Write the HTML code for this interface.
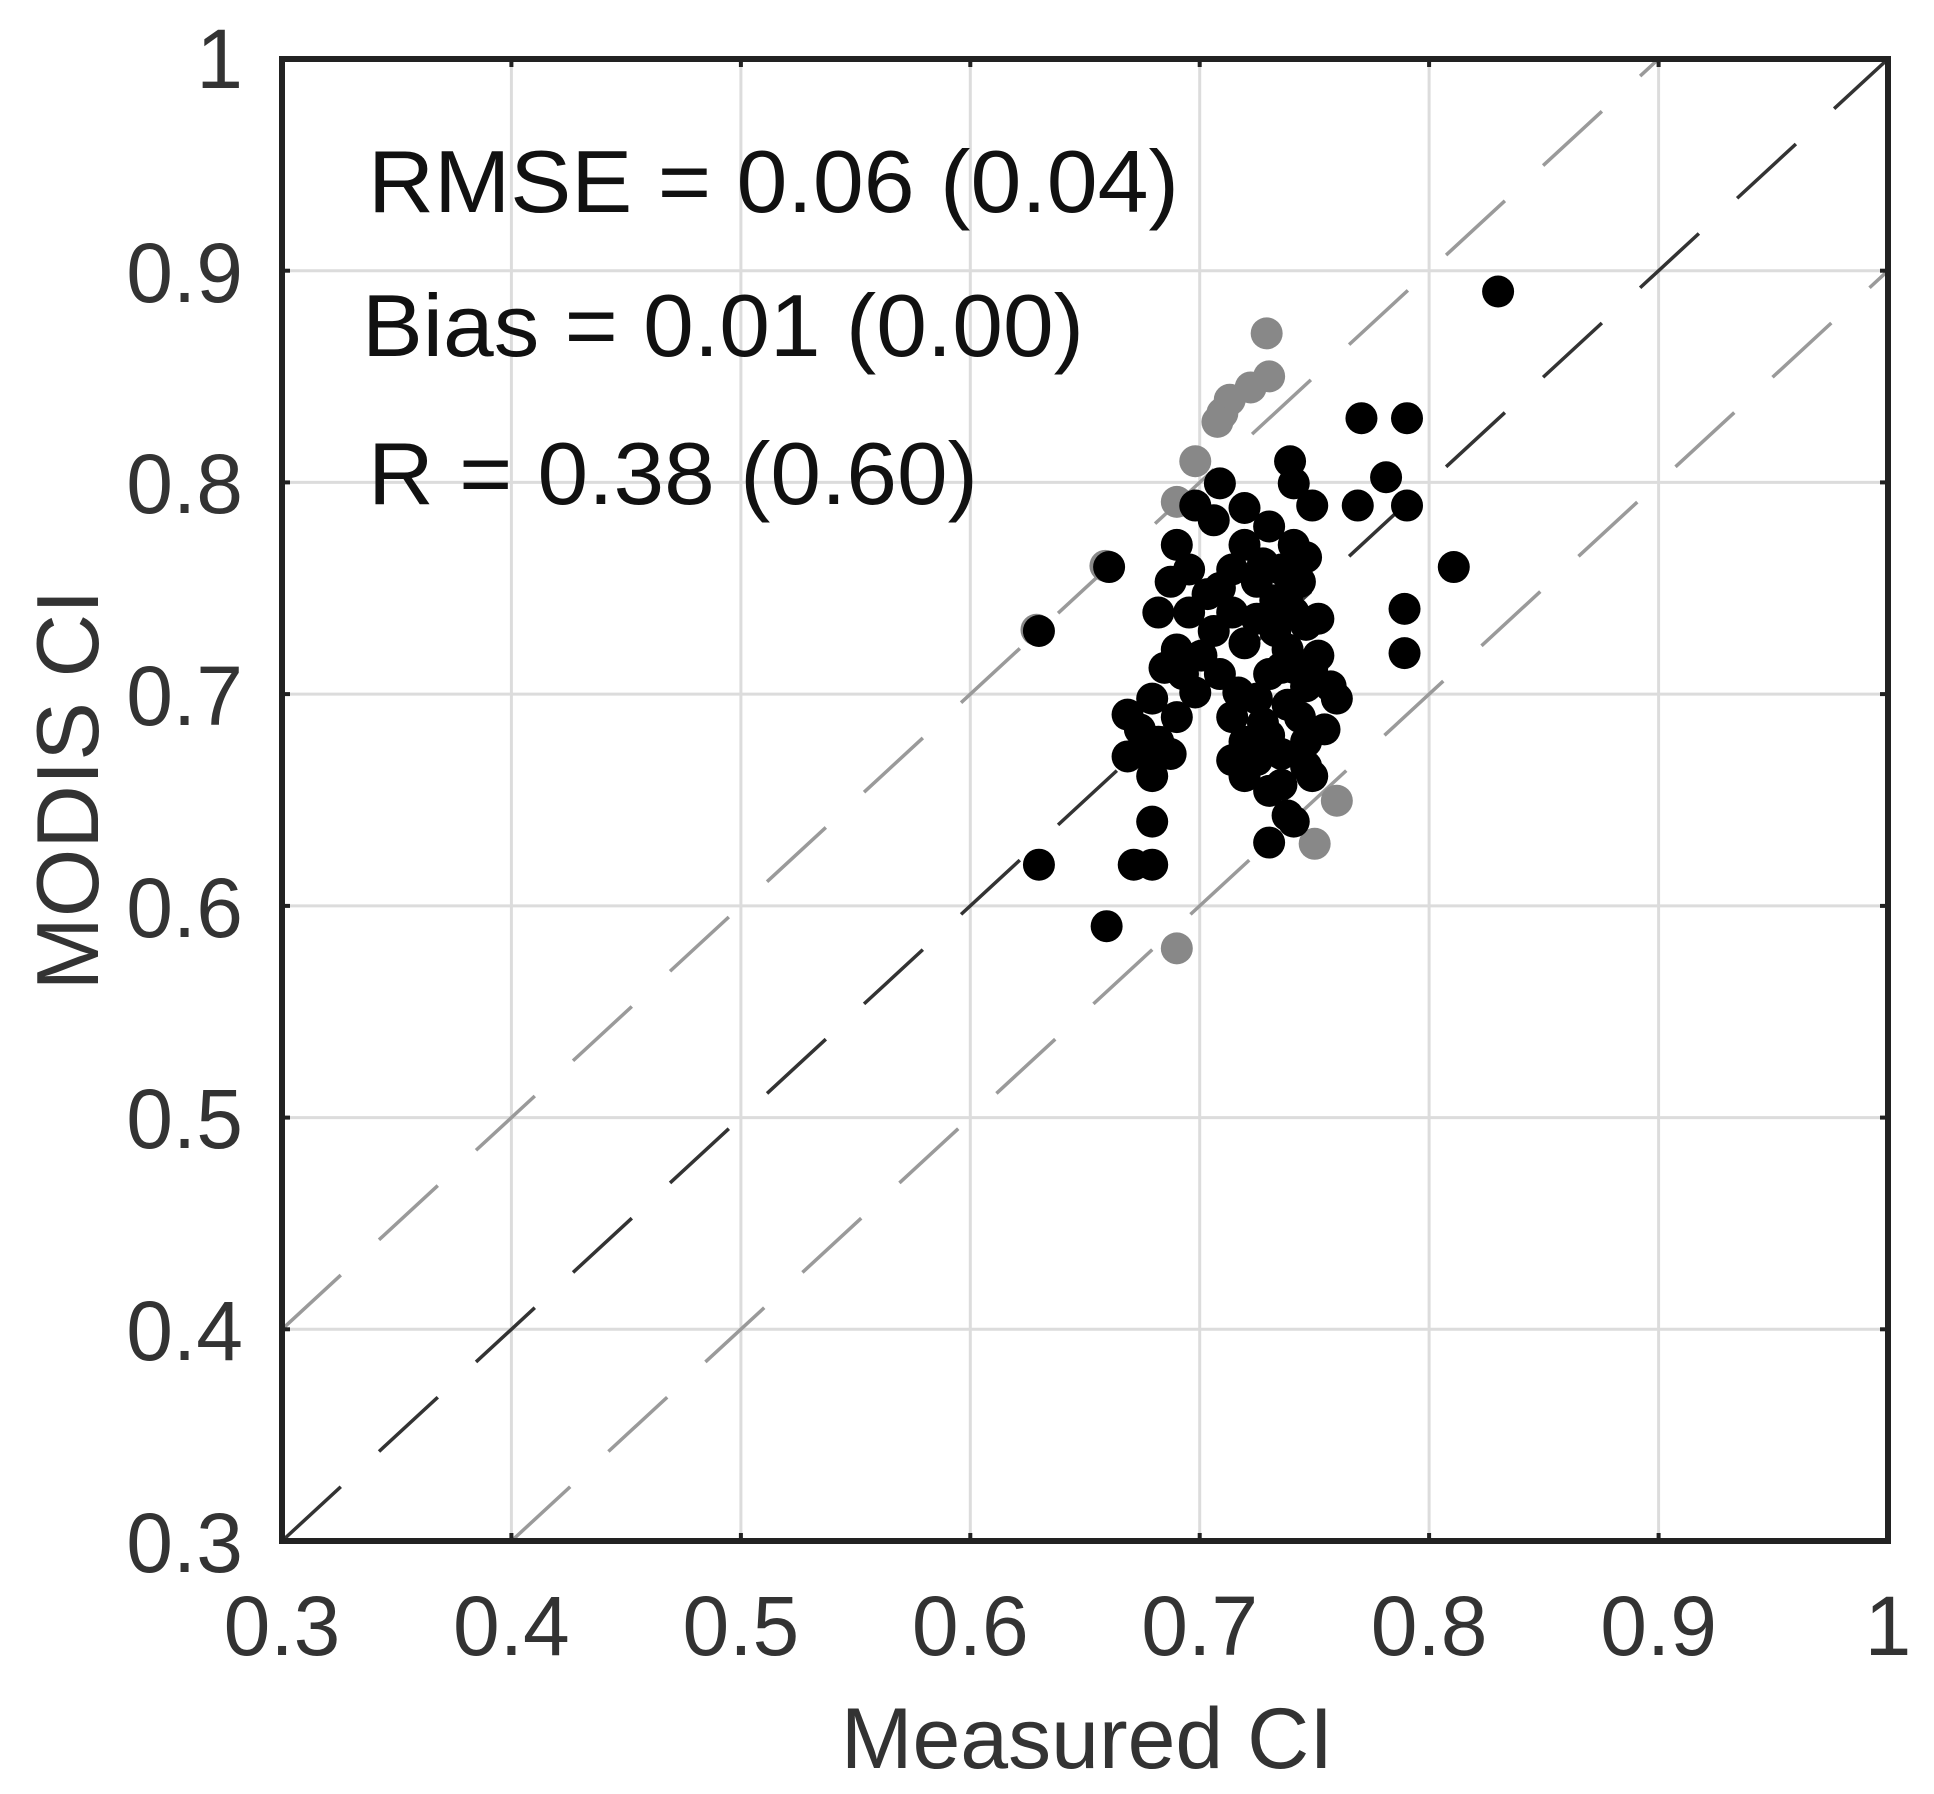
<!DOCTYPE html>
<html><head><meta charset="utf-8"><style>
html,body{margin:0;padding:0;background:#fff;}
svg{display:block;}
text{font-family:"Liberation Sans",Arial,sans-serif;}
</style></head><body>
<svg width="1934" height="1794" viewBox="0 0 1934 1794" xmlns="http://www.w3.org/2000/svg">
<rect width="1934" height="1794" fill="#fff"/>
<g stroke="#dcdcdc" stroke-width="3">
<line x1="511.4" y1="59" x2="511.4" y2="1541"/>
<line x1="740.9" y1="59" x2="740.9" y2="1541"/>
<line x1="970.3" y1="59" x2="970.3" y2="1541"/>
<line x1="1199.7" y1="59" x2="1199.7" y2="1541"/>
<line x1="1429.1" y1="59" x2="1429.1" y2="1541"/>
<line x1="1658.6" y1="59" x2="1658.6" y2="1541"/>
<line x1="282" y1="1329.3" x2="1888" y2="1329.3"/>
<line x1="282" y1="1117.6" x2="1888" y2="1117.6"/>
<line x1="282" y1="905.9" x2="1888" y2="905.9"/>
<line x1="282" y1="694.1" x2="1888" y2="694.1"/>
<line x1="282" y1="482.4" x2="1888" y2="482.4"/>
<line x1="282" y1="270.7" x2="1888" y2="270.7"/>
</g>
<g stroke-width="3.5" fill="none" stroke-dasharray="80 52">
<line x1="282" y1="1541" x2="1888" y2="59" stroke="#333"/>
<line x1="282" y1="1329.3" x2="1658.6" y2="59" stroke="#9a9a9a"/>
<line x1="511.4" y1="1541" x2="1888" y2="270.7" stroke="#9a9a9a"/>
</g>
<g transform="translate(1.2,3.7) scale(1.231,1.23)">
<g fill="#888">
<circle cx="1028" cy="268" r="13"/><circle cx="1030" cy="303" r="13"/><circle cx="1015" cy="312" r="13"/>
<circle cx="998" cy="322" r="13"/><circle cx="992" cy="333" r="13"/><circle cx="988" cy="340" r="13"/>
<circle cx="970" cy="372" r="13"/><circle cx="955" cy="405" r="13"/><circle cx="1085" cy="648" r="13"/>
<circle cx="1067" cy="683" r="13"/><circle cx="955" cy="768" r="13"/><circle cx="897" cy="457" r="13"/><circle cx="841" cy="509" r="13"/>
</g>
<g fill="#000">
<circle cx="1216" cy="234" r="13"/><circle cx="1105" cy="337" r="13"/><circle cx="1142" cy="337" r="13"/>
<circle cx="1047" cy="372" r="13"/><circle cx="1125" cy="385" r="13"/><circle cx="1102" cy="408" r="13"/>
<circle cx="1142" cy="408" r="13"/><circle cx="990" cy="390" r="13"/><circle cx="970" cy="408" r="13"/>
<circle cx="1065" cy="408" r="13"/><circle cx="1050" cy="440" r="13"/><circle cx="1030" cy="425" r="13"/>
<circle cx="1010" cy="440" r="13"/><circle cx="955" cy="440" r="13"/><circle cx="965" cy="460" r="13"/>
<circle cx="900" cy="458" r="13"/><circle cx="1180" cy="458" r="13"/><circle cx="990" cy="475" r="13"/>
<circle cx="940" cy="495" r="13"/><circle cx="965" cy="495" r="13"/><circle cx="1000" cy="495" r="13"/>
<circle cx="1050" cy="495" r="13"/><circle cx="1140" cy="492" r="13"/><circle cx="843" cy="510" r="13"/>
<circle cx="1140" cy="528" r="13"/><circle cx="955" cy="525" r="13"/><circle cx="1010" cy="520" r="13"/>
<circle cx="1045" cy="525" r="13"/><circle cx="1070" cy="530" r="13"/><circle cx="1030" cy="545" r="13"/>
<circle cx="1060" cy="555" r="13"/><circle cx="1080" cy="555" r="13"/><circle cx="970" cy="560" r="13"/>
<circle cx="935" cy="565" r="13"/><circle cx="915" cy="578" r="13"/><circle cx="1045" cy="570" r="13"/>
<circle cx="1000" cy="580" r="13"/><circle cx="1085" cy="565" r="13"/><circle cx="925" cy="590" r="13"/>
<circle cx="940" cy="600" r="13"/><circle cx="1010" cy="600" r="13"/><circle cx="1060" cy="600" r="13"/>
<circle cx="1030" cy="595" r="13"/><circle cx="1060" cy="620" r="13"/><circle cx="915" cy="612" r="13"/>
<circle cx="935" cy="628" r="13"/><circle cx="1010" cy="628" r="13"/><circle cx="1040" cy="610" r="13"/>
<circle cx="1065" cy="628" r="13"/><circle cx="1045" cy="660" r="13"/><circle cx="920" cy="700" r="13"/>
<circle cx="935" cy="700" r="13"/><circle cx="935" cy="665" r="13"/><circle cx="1050" cy="665" r="13"/>
<circle cx="1030" cy="682" r="13"/><circle cx="843" cy="700" r="13"/><circle cx="898" cy="750" r="13"/>
<circle cx="1020" cy="470" r="13"/><circle cx="1040" cy="460" r="13"/><circle cx="1055" cy="470" r="13"/>
<circle cx="1020" cy="500" r="13"/><circle cx="1035" cy="510" r="13"/><circle cx="985" cy="510" r="13"/>
<circle cx="950" cy="470" r="13"/><circle cx="975" cy="530" r="13"/><circle cx="990" cy="545" r="13"/>
<circle cx="955" cy="580" r="13"/><circle cx="1020" cy="565" r="13"/><circle cx="1050" cy="540" r="13"/>
<circle cx="1075" cy="590" r="13"/><circle cx="1020" cy="615" r="13"/><circle cx="1060" cy="450" r="13"/>
<circle cx="1010" cy="410" r="13"/><circle cx="1050" cy="390" r="13"/>
<circle cx="1025" cy="455" r="13"/><circle cx="1035" cy="485" r="13"/><circle cx="1060" cy="505" r="13"/>
<circle cx="1000" cy="460" r="13"/><circle cx="980" cy="480" r="13"/><circle cx="960" cy="545" r="13"/>
<circle cx="945" cy="540" r="13"/><circle cx="1040" cy="540" r="13"/><circle cx="1055" cy="580" r="13"/>
<circle cx="1005" cy="560" r="13"/><circle cx="1025" cy="585" r="13"/><circle cx="1070" cy="500" r="13"/>
<circle cx="950" cy="610" r="13"/><circle cx="930" cy="610" r="13"/><circle cx="1000" cy="615" r="13"/>
<circle cx="1065" cy="540" r="13"/><circle cx="1045" cy="480" r="13"/><circle cx="985" cy="420" r="13"/>
<circle cx="1030" cy="640" r="13"/><circle cx="1040" cy="635" r="13"/>
</g>
</g>
<g stroke="#222" stroke-width="4">
<line x1="511.4" y1="1541" x2="511.4" y2="1533"/><line x1="740.9" y1="1541" x2="740.9" y2="1533"/>
<line x1="970.3" y1="1541" x2="970.3" y2="1533"/><line x1="1199.7" y1="1541" x2="1199.7" y2="1533"/>
<line x1="1429.1" y1="1541" x2="1429.1" y2="1533"/><line x1="1658.6" y1="1541" x2="1658.6" y2="1533"/>
<line x1="511.4" y1="59" x2="511.4" y2="67"/><line x1="740.9" y1="59" x2="740.9" y2="67"/>
<line x1="970.3" y1="59" x2="970.3" y2="67"/><line x1="1199.7" y1="59" x2="1199.7" y2="67"/>
<line x1="1429.1" y1="59" x2="1429.1" y2="67"/><line x1="1658.6" y1="59" x2="1658.6" y2="67"/>
<line x1="282" y1="1329.3" x2="290" y2="1329.3"/><line x1="282" y1="1117.6" x2="290" y2="1117.6"/>
<line x1="282" y1="905.9" x2="290" y2="905.9"/><line x1="282" y1="694.1" x2="290" y2="694.1"/>
<line x1="282" y1="482.4" x2="290" y2="482.4"/><line x1="282" y1="270.7" x2="290" y2="270.7"/>
<line x1="1888" y1="1329.3" x2="1880" y2="1329.3"/><line x1="1888" y1="1117.6" x2="1880" y2="1117.6"/>
<line x1="1888" y1="905.9" x2="1880" y2="905.9"/><line x1="1888" y1="694.1" x2="1880" y2="694.1"/>
<line x1="1888" y1="482.4" x2="1880" y2="482.4"/><line x1="1888" y1="270.7" x2="1880" y2="270.7"/>
</g>
<rect x="282" y="59" width="1606" height="1482" fill="none" stroke="#222" stroke-width="6"/>
<g fill="#333" font-size="84" text-anchor="end">
<text x="243" y="1572">0.3</text>
<text x="243" y="1360">0.4</text>
<text x="243" y="1148">0.5</text>
<text x="243" y="937">0.6</text>
<text x="243" y="725">0.7</text>
<text x="243" y="513">0.8</text>
<text x="243" y="302">0.9</text>
<text x="243" y="88">1</text>
</g>
<g fill="#333" font-size="84" text-anchor="middle">
<text x="282" y="1655">0.3</text>
<text x="511.4" y="1655">0.4</text>
<text x="740.9" y="1655">0.5</text>
<text x="970.3" y="1655">0.6</text>
<text x="1199.7" y="1655">0.7</text>
<text x="1429.1" y="1655">0.8</text>
<text x="1658.6" y="1655">0.9</text>
<text x="1888" y="1655">1</text>
</g>
<text x="1087" y="1768" fill="#333" font-size="86" text-anchor="middle">Measured CI</text>
<text transform="translate(98,790) rotate(-90)" fill="#333" font-size="88" text-anchor="middle">MODIS CI</text>
<g fill="#111" font-size="88">
<text x="368" y="212" textLength="811" lengthAdjust="spacingAndGlyphs">RMSE = 0.06 (0.04)</text>
<text x="362" y="356" textLength="722" lengthAdjust="spacingAndGlyphs">Bias = 0.01 (0.00)</text>
<text x="368" y="504" textLength="610" lengthAdjust="spacingAndGlyphs">R = 0.38 (0.60)</text>
</g>
</svg>
</body></html>
